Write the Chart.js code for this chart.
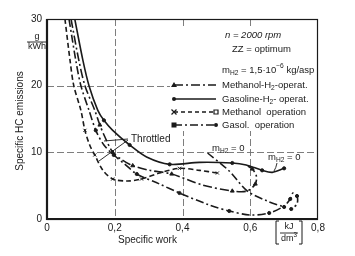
<!DOCTYPE html>
<html lang="en">
<head>
<meta charset="UTF-8">
<title>Specific HC emissions</title>
<script src="https://cdn.jsdelivr.net/npm/chart.js"></script>
<style>
    body { margin: 0; background: #fff; }
    #wrap { width: 355px; height: 256px; }
</style>
</head>
<body>
<div id="wrap"><canvas id="hcChart" width="355" height="256"></canvas></div>
<script>
// values
const xTicks = [0, 0.2, 0.4, 0.6, 0.8];
const yTicks = [0, 10, 20, 30];

const methH2X = [0.071, 0.094, 0.112, 0.141, 0.156, 0.171, 0.194, 0.221, 0.253, 0.303, 0.368, 0.459, 0.547, 0.591, 0.615, 0.618, 0.606, 0.588];
const methH2Y = [30, 23.8, 20.0, 16.3, 14.1, 12.3, 10.0, 8.9, 8.0, 7.3, 6.75, 5.1, 4.2, 4.2, 5.25, 6.45, 7.5, 8.1];

const gasH2X = [0.082, 0.106, 0.124, 0.15, 0.168, 0.194, 0.244, 0.294, 0.362, 0.45, 0.547, 0.588, 0.635, 0.665, 0.7];
const gasH2Y = [30, 23.8, 20.0, 16.3, 14.8, 13.3, 11.1, 9.3, 8.2, 8.5, 8.4, 8.1, 7.3, 7.0, 7.6];

const methX = [0.053, 0.068, 0.079, 0.1, 0.112, 0.126, 0.141, 0.165, 0.194, 0.238, 0.279, 0.332, 0.391, 0.45, 0.503];
const methY = [30, 23.8, 20.0, 16.3, 13.3, 11.1, 9.6, 7.3, 6.0, 5.7, 6.0, 6.9, 7.6, 7.3, 6.9];

const gasX = [0.065, 0.085, 0.1, 0.124, 0.144, 0.168, 0.197, 0.229, 0.265, 0.332, 0.391, 0.479, 0.538, 0.6, 0.656, 0.7, 0.718, 0.726, 0.738, 0.738, 0.721];
const gasY = [30, 23.8, 20.0, 16.3, 13.3, 11.1, 9.6, 8.25, 6.75, 5.25, 3.9, 2.1, 1.2, 0.6, 0.9, 1.95, 3.0, 3.9, 3.45, 2.25, 1.5];

// line from the mH2 = 0 point down to the rich end
const zeroH2X = [0.474, 0.538, 0.591, 0.65, 0.7];
const zeroH2Y = [9.9, 7.2, 4.2, 2.7, 1.8];

const FONT = '"Liberation Sans", Arial, sans-serif';
const INK = '#1a1a1a';

function pts(xs, ys) {
    return xs.map((x, i) => ({ x: x, y: ys[i] }));
}

// draw text made of normal / sub / sup pieces
function richText(ctx, x, y, parts, size, style) {
    let cx = x;
    ctx.textAlign = 'left';
    parts.forEach(p => {
        const s = p[1] ? size * 0.7 : size;
        ctx.font = (style || '') + ' ' + s + 'px ' + FONT;
        let dy = 0;
        if (p[1] === 'sub') dy = size * 0.3;
        if (p[1] === 'sup') dy = -size * 0.4;
        ctx.fillText(p[0], cx, y + dy);
        cx += ctx.measureText(p[0]).width;
    });
}

function marker(ctx, type, x, y) {
    ctx.save();
    ctx.setLineDash([]);
    ctx.beginPath();
    if (type === 'triangle') {
        ctx.moveTo(x, y - 3); ctx.lineTo(x + 3, y + 2); ctx.lineTo(x - 3, y + 2); ctx.closePath(); ctx.fill();
    } else if (type === 'dot') {
        ctx.arc(x, y, 2, 0, Math.PI * 2); ctx.fill();
    } else if (type === 'cross') {
        ctx.moveTo(x - 2.5, y - 2.5); ctx.lineTo(x + 2.5, y + 2.5);
        ctx.moveTo(x + 2.5, y - 2.5); ctx.lineTo(x - 2.5, y + 2.5); ctx.stroke();
    } else if (type === 'square') {
        ctx.fillRect(x - 2.5, y - 2.5, 5, 5);
    } else if (type === 'ring') {
        ctx.rect(x - 2, y - 2, 4, 4); ctx.stroke();
    }
    ctx.restore();
}

const frame = {
    id: 'frame',
    beforeDatasetsDraw(chart) {
        const { ctx, chartArea: a, scales: { x, y } } = chart;
        ctx.save();
        // dashed grid
        ctx.strokeStyle = '#6f6f6f';
        ctx.lineWidth = 0.9;
        ctx.setLineDash([7, 3]);
        [0.2, 0.4, 0.6].forEach(v => {
            const px = Math.round(x.getPixelForValue(v)) + 0.5;
            ctx.beginPath(); ctx.moveTo(px, a.top); ctx.lineTo(px, a.bottom); ctx.stroke();
        });
        [10, 20].forEach(v => {
            const py = Math.round(y.getPixelForValue(v)) + 0.5;
            ctx.beginPath(); ctx.moveTo(a.left, py); ctx.lineTo(a.right, py); ctx.stroke();
        });
        // blank area behind the legend block
        ctx.fillStyle = '#fff';
        ctx.fillRect(170, 27, a.right - 171, 104);
        ctx.restore();
    },
    afterDatasetsDraw(chart) {
        const { ctx, chartArea: a } = chart;
        ctx.save();
        ctx.setLineDash([]);
        ctx.strokeStyle = INK;
        ctx.fillStyle = INK;
        // box: heavy left/bottom, thin top/right
        ctx.lineWidth = 1.2;
        ctx.strokeRect(a.left, a.top + 0.5, a.right - a.left - 0.5, a.bottom - a.top);
        ctx.lineWidth = 2.2;
        ctx.beginPath();
        ctx.moveTo(a.left, a.top); ctx.lineTo(a.left, a.bottom); ctx.lineTo(a.right, a.bottom);
        ctx.stroke();

        ctx.textBaseline = 'middle';

        // condition notes
        richText(ctx, 225, 35, [['n = 2000 rpm', '']], 9.5, 'italic');
        richText(ctx, 232, 49, [['ZZ = optimum', '']], 9.5, '');
        richText(ctx, 222, 70, [['m', ''], ['H2', 'sub'], [' = 1,5·10', ''], ['−6', 'sup'], [' kg/asp', '']], 9.5, '');

        // legend
        const rows = [
            { y: 85, dash: [9, 3, 2, 3], a: 'triangle', b: null, parts: [['Methanol-H', ''], ['2', 'sub'], ['-operat.', '']] },
            { y: 99, dash: [], a: 'dot', b: null, parts: [['Gasoline-H', ''], ['2', 'sub'], ['- operat.', '']] },
            { y: 112, dash: [4, 3], a: 'cross', b: 'ring', parts: [['Methanol  operation', '']] },
            { y: 125, dash: [8, 3, 2, 3], a: 'square', b: 'dot', parts: [['Gasol.  operation', '']] }
        ];
        rows.forEach(r => {
            ctx.lineWidth = 1.6;
            ctx.setLineDash(r.dash);
            ctx.beginPath(); ctx.moveTo(174, r.y); ctx.lineTo(216, r.y); ctx.stroke();
            ctx.setLineDash([]);
            ctx.lineWidth = 1.2;
            marker(ctx, r.a, 174, r.y);
            if (r.b) marker(ctx, r.b, 216, r.y);
            richText(ctx, 222, r.y, r.parts, 9.5, '');
        });

        // throttled pointer
        ctx.lineWidth = 0.9;
        ctx.beginPath();
        ctx.moveTo(128, 139); ctx.lineTo(104, 141);
        ctx.moveTo(128, 140); ctx.lineTo(99, 161);
        ctx.stroke();
        richText(ctx, 131, 139, [['Throttled', '']], 10, '');

        // mH2 = 0 labels
        richText(ctx, 212, 148, [['m', ''], ['H2', 'sub'], [' = 0', '']], 9.5, '');
        ctx.beginPath();
        ctx.moveTo(277, 163); ctx.quadraticCurveTo(276, 168, 274, 171);
        ctx.stroke();
        richText(ctx, 268, 157, [['m', ''], ['H2', 'sub'], [' = 0', '']], 9.5, '');

        // axis titles
        ctx.font = '10px ' + FONT;
        ctx.textAlign = 'left';
        ctx.fillText('Specific work', 118, 240);
        ctx.save();
        ctx.translate(20, 121);
        ctx.rotate(-Math.PI / 2);
        ctx.textAlign = 'center';
        ctx.fillText('Specific HC emissions', 0, 0);
        ctx.restore();

        // y unit  g / kWh
        ctx.textAlign = 'center';
        ctx.font = '9px ' + FONT;
        ctx.fillText('g', 37, 37);
        ctx.fillText('kWh', 37, 47);
        ctx.lineWidth = 0.9;
        ctx.beginPath(); ctx.moveTo(27, 42); ctx.lineTo(47, 42); ctx.stroke();

        // x unit  [kJ/dm3]
        ctx.fillText('kJ', 289, 227);
        richText(ctx, 281, 239, [['dm', ''], ['3', 'sup']], 9, '');
        ctx.beginPath(); ctx.moveTo(280, 233); ctx.lineTo(298, 233); ctx.stroke();
        ctx.lineWidth = 1;
        ctx.beginPath();
        ctx.moveTo(279, 221); ctx.lineTo(276, 221); ctx.lineTo(276, 244); ctx.lineTo(279, 244);
        ctx.moveTo(299, 221); ctx.lineTo(302, 221); ctx.lineTo(302, 244); ctx.lineTo(299, 244);
        ctx.stroke();
        ctx.restore();
    }
};

function series(label, xs, ys, dash, pointStyle, r) {
    return {
        label: label,
        data: pts(xs, ys),
        borderColor: INK,
        backgroundColor: INK,
        borderWidth: 1.6,
        borderDash: dash,
        pointStyle: pointStyle,
        // sparse markers, none on the steep upper part
        pointRadius: ctx => (ctx.dataIndex >= 4 && ctx.dataIndex % 2 === 0 ? r : 0),
        pointBorderWidth: 1,
        tension: 0.3,
        fill: false
    };
}

const tickFont = { family: FONT, size: 10 };

new Chart(document.getElementById('hcChart'), {
    type: 'line',
    data: {
        datasets: [
            series('Methanol-H2-operat.', methH2X, methH2Y, [9, 3, 2, 3], 'triangle', 2.2),
            series('Gasoline-H2-operat.', gasH2X, gasH2Y, [], 'circle', 1.6),
            series('Methanol operation', methX, methY, [5, 3], 'crossRot', 2.2),
            series('Gasol. operation', gasX, gasY, [8, 3, 2, 3], 'circle', 1.6),
            series('mH2 = 0', zeroH2X, zeroH2Y, [8, 3, 2, 3], 'circle', 1.6)
        ]
    },
    options: {
        responsive: false,
        animation: false,
        layout: { padding: { top: 19, right: 37, left: 0, bottom: 0 } },
        plugins: { legend: { display: false }, tooltip: { enabled: false } },
        scales: {
            x: {
                type: 'linear',
                min: 0,
                max: 0.8,
                afterBuildTicks: s => { s.ticks = xTicks.map(v => ({ value: v })); },
                afterFit: s => { s.height = 37; },
                grid: { display: false, drawTicks: false },
                border: { display: false },
                ticks: {
                    font: tickFont,
                    color: INK,
                    padding: 3,
                    maxRotation: 0,
                    callback: v => String(Math.round(v * 10) / 10).replace('.', ',')
                }
            },
            y: {
                min: 0,
                max: 30,
                afterBuildTicks: s => { s.ticks = yTicks.map(v => ({ value: v })); },
                afterFit: s => { s.width = 47; },
                grid: { display: false, drawTicks: false },
                border: { display: false },
                ticks: { font: tickFont, color: INK, padding: 5 }
            }
        }
    },
    plugins: [frame]
});
</script>
</body>
</html>
